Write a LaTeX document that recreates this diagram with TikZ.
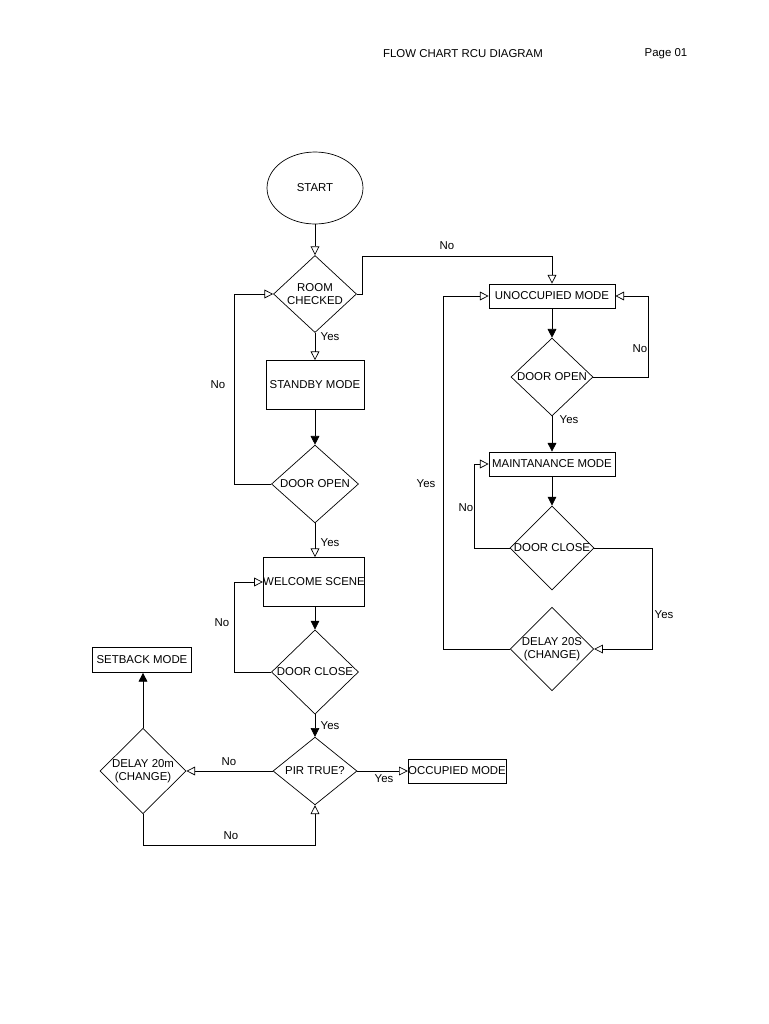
\documentclass[tikz,border=0pt]{standalone}
\usepackage{fontspec}
\setmainfont{Liberation Sans}
\usetikzlibrary{shapes.geometric,arrows.meta}
\begin{document}
\begin{tikzpicture}[x=0.02cm,y=-0.02cm,
  every node/.style={font=\fontsize{6.5}{7.5}\selectfont,align=center},
  box/.style={draw,thin,inner sep=0pt},
  dia/.style={draw,thin,diamond,inner sep=0pt},
  lbl/.style={inner sep=1pt},
  ln/.style={thin},
  oa/.style={thin,-{Triangle[open,length=5pt,width=5pt]}},
  fa/.style={thin,-{Triangle[length=5pt,width=5pt]}}]
\useasboundingbox (0,0) rectangle (768,1024);
\node[lbl] (title) at (463,54) {FLOW CHART RCU DIAGRAM};
\node[lbl] (page) at (666,54) {Page 01};
% left column
\node[draw,thin,ellipse,minimum width=1.92cm,minimum height=1.44cm] (start) at (315,188) {START};
\node[dia,minimum width=1.66cm,minimum height=1.4cm] (rc) at (315,294) {ROOM\\CHECKED};
\node[box,minimum width=1.96cm,minimum height=0.98cm] (sb) at (315,385) {STANDBY MODE};
\node[dia,minimum width=1.74cm,minimum height=1.34cm] (do1) at (315,484) {DOOR OPEN};
\node[box,minimum width=1.92cm,minimum height=0.98cm] (ws) at (314,582) {WELCOME SCENE};
\node[dia,minimum width=1.74cm,minimum height=1.34cm] (dc1) at (315,672) {DOOR CLOSE};
\node[dia,minimum width=1.68cm,minimum height=1.32cm] (pir) at (315,771) {PIR TRUE?};
\node[box,minimum width=1.9cm,minimum height=0.48cm] (occ) at (457,771) {OCCUPIED MODE};
\node[dia,minimum width=1.72cm,minimum height=1.32cm] (d20m) at (143,771) {DELAY 20m\\(CHANGE)};
\node[box,minimum width=1.98cm,minimum height=0.5cm] (set) at (142,660) {SETBACK MODE};
% right column
\node[box,minimum width=2.52cm,minimum height=0.48cm] (unocc) at (552,296) {UNOCCUPIED MODE};
\node[dia,minimum width=1.64cm,minimum height=1.3cm] (do2) at (552,377) {DOOR OPEN};
\node[box,minimum width=2.52cm,minimum height=0.48cm] (mm) at (552,464) {MAINTANANCE MODE};
\node[dia,minimum width=1.64cm,minimum height=1.3cm] (dc2) at (552,548) {DOOR CLOSE};
\node[dia,minimum width=1.64cm,minimum height=1.32cm] (d20s) at (552,649) {DELAY 20S\\(CHANGE)};
% connectors
\draw[oa] (start) -- (rc.north);
\draw[oa] (rc.east) -- (362,294) -- (362,256) -- (552,256) -- (unocc.north);
\node[lbl] (l1) at (447,246) {No};
\draw[oa] (rc.south) -- (sb.north);
\node[lbl] (l2) at (330,337) {Yes};
\draw[fa] (sb.south) -- (do1.north);
\draw[oa] (do1.west) -- (234,484) -- (234,294) -- (rc.west);
\node[lbl] (l3) at (218,385) {No};
\draw[oa] (do1.south) -- (ws.north -| do1.south);
\node[lbl] (l4) at (330,543) {Yes};
\draw[fa] (ws.south -| dc1.north) -- (dc1.north);
\draw[oa] (dc1.west) -- (234,672) -- (234,582) -- (ws.west);
\node[lbl] (l5) at (222,623) {No};
\draw[fa] (dc1.south) -- (pir.north);
\node[lbl] (l6) at (330,726) {Yes};
\draw[oa] (pir.east) -- (occ.west);
\node[lbl] (l7) at (384,779) {Yes};
\draw[oa] (pir.west) -- (d20m.east);
\node[lbl] (l8) at (229,762) {No};
\draw[fa] (d20m.north) -- (set.south -| d20m.north);
\draw[oa] (d20m.south) -- (143,845) -- (315,845) -- (pir.south);
\node[lbl] (l9) at (231,836) {No};
\draw[fa] (unocc.south) -- (do2.north);
\draw[oa] (do2.east) -- (648,377) -- (648,296) -- (unocc.east);
\node[lbl] (l10) at (640,349) {No};
\draw[fa] (do2.south) -- (mm.north);
\node[lbl] (l11) at (569,420) {Yes};
\draw[fa] (mm.south) -- (dc2.north);
\draw[oa] (dc2.west) -- (474,548) -- (474,464) -- (mm.west);
\node[lbl] (l12) at (466,508) {No};
\draw[oa] (dc2.east) -- (652,548) -- (652,649) -- (d20s.east);
\node[lbl] (l13) at (664,615) {Yes};
\draw[oa] (d20s.west) -- (443,649) -- (443,296) -- (unocc.west);
\node[lbl] (l14) at (426,484) {Yes};
\end{tikzpicture}
\end{document}
